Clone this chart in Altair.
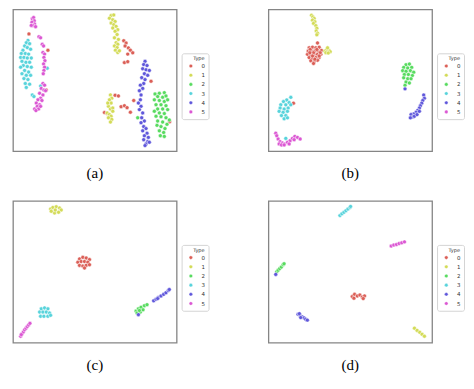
import altair as alt
import pandas as pd

TYPES = ["0", "1", "2", "3", "4", "5"]
COLORS = ["#db5f57", "#d3db57", "#57db5f", "#57d3db", "#5f57db", "#db57d3"]
CAPTIONS = ["(a)", "(b)", "(c)", "(d)"]

# ---- panel (a): embedding coordinates ----
A_XDOM = [35, 527]
A_YDOM = [447, 13]
A0 = [(83, 88), (140, 138), (135, 260), (368, 109), (375, 116), (372, 125), (382, 131), (388, 138),
      (395, 146), (380, 150), (370, 176), (380, 173), (450, 233), (398, 292), (342, 276), (352, 278),
      (360, 311), (370, 308), (378, 314), (388, 328), (310, 329), (318, 332), (506, 357)]
A1 = [(330, 32), (338, 30), (325, 40), (335, 45), (342, 50), (330, 55), (338, 60), (345, 65), (335, 70),
      (350, 75), (342, 80), (348, 90), (340, 100), (352, 105), (345, 115), (350, 120), (340, 125),
      (348, 130), (343, 138), (350, 145), (355, 140),
      (328, 275), (332, 285), (325, 290), (330, 300), (322, 310), (328, 318), (335, 315), (318, 330),
      (325, 335), (330, 340), (322, 345), (332, 350), (328, 358), (335, 325), (320, 300)]
A2 = [(462, 272), (475, 270), (490, 268), (470, 280), (485, 282), (495, 278), (460, 290), (475, 292),
      (490, 295), (500, 290), (465, 305), (480, 305), (495, 308), (470, 318), (485, 318), (500, 320),
      (460, 325), (475, 330), (490, 332), (465, 340), (480, 342), (495, 345), (505, 352), (470, 355),
      (485, 358), (498, 365), (468, 368), (480, 372), (492, 378), (475, 385), (488, 390), (478, 400),
      (490, 402), (410, 345)]
A3 = [(80, 108), (75, 115), (85, 118), (70, 125), (78, 130), (65, 138), (88, 135), (60, 148), (72, 148),
      (82, 150), (58, 160), (68, 160), (78, 162), (90, 162), (62, 172), (74, 175), (85, 175), (66, 185),
      (78, 188), (58, 190), (90, 190), (70, 200), (82, 205), (62, 210), (75, 215), (88, 215), (68, 225),
      (80, 228), (72, 240), (85, 242), (75, 252), (93, 275), (98, 280), (118, 248), (138, 193)]
A4 = [(432, 172), (428, 182), (438, 185), (425, 195), (435, 198), (445, 200), (430, 210), (440, 215),
      (422, 222), (432, 228), (428, 240), (418, 245), (425, 255), (415, 262), (420, 275), (418, 290),
      (412, 300), (420, 310), (415, 320), (425, 330), (422, 345), (430, 355), (420, 360), (428, 372),
      (435, 378), (425, 385), (438, 392), (430, 400), (442, 405), (428, 412), (440, 418), (435, 425),
      (445, 420), (432, 430)]
A5 = [(93, 42), (97, 38), (99, 48), (92, 52), (100, 58), (95, 62), (103, 66), (90, 62), (113, 97),
      (118, 100), (123, 120), (127, 125), (125, 145), (130, 150), (128, 160), (131, 170), (127, 180),
      (130, 190), (128, 200), (126, 210), (125, 240), (130, 245), (120, 255), (128, 260), (133, 262),
      (115, 270), (125, 275), (118, 285), (110, 290), (122, 292), (105, 300), (115, 305), (108, 310),
      (100, 318), (112, 318), (104, 323), (118, 310)]

# ---- panel (b) ----
B_XDOM = [93, 583]
B_YDOM = [447, 12]
B0 = [(240, 115), (215, 130), (225, 128), (235, 130), (245, 128), (212, 140), (222, 140), (232, 140),
      (242, 140), (252, 138), (210, 150), (220, 152), (230, 150), (240, 150), (250, 150), (215, 160),
      (225, 162), (235, 160), (245, 160), (220, 170), (230, 172), (240, 168), (228, 178), (218, 135),
      (238, 135), (228, 145), (248, 145), (217, 145), (225, 155), (245, 155), (232, 165), (168, 300)]
B1 = [(222, 30), (226, 35), (230, 40), (225, 45), (232, 50), (228, 55), (235, 62), (238, 70), (236, 78),
      (240, 85), (238, 90), (262, 140), (268, 135), (275, 138), (265, 145), (278, 142), (270, 130),
      (272, 146)]
B2 = [(505, 182), (515, 180), (498, 190), (510, 192), (522, 190), (495, 200), (505, 202), (518, 200),
      (528, 205), (500, 212), (512, 212), (524, 215), (498, 222), (510, 225), (520, 225), (505, 235),
      (515, 238), (502, 245)]
B3 = [(160, 282), (148, 290), (138, 295), (155, 298), (130, 305), (145, 305), (160, 305), (128, 315),
      (140, 318), (152, 315), (125, 325), (137, 328), (150, 325), (132, 338), (145, 338), (140, 348),
      (150, 345), (145, 408)]
B4 = [(558, 275), (560, 285), (555, 292), (552, 300), (548, 308), (545, 315), (540, 322), (535, 328),
      (528, 333), (520, 335), (525, 342), (518, 345), (530, 340), (538, 335), (545, 325), (502, 256)]
B5 = [(115, 392), (118, 400), (122, 410), (128, 418), (135, 422), (142, 425), (150, 420), (158, 415),
      (165, 408), (172, 402), (180, 405), (188, 410), (125, 425), (132, 428), (140, 428), (155, 425),
      (170, 412)]

# ---- panel (c) ----
C_XDOM = [35, 527]
C_YDOM = [470, 30]
C0 = [(235, 210), (245, 205), (255, 207), (265, 212), (230, 220), (240, 218), (250, 218), (260, 220),
      (235, 230), (245, 232), (255, 230), (265, 228), (250, 238)]
C1 = [(148, 55), (155, 50), (165, 48), (175, 52), (180, 58), (172, 65), (160, 67), (150, 62), (162, 58)]
C2 = [(405, 372), (412, 365), (420, 360), (430, 355), (438, 352), (408, 378), (418, 375), (426, 368),
      (415, 370)]
C3 = [(120, 365), (130, 362), (140, 365), (115, 375), (125, 375), (135, 375), (145, 378), (118, 388),
      (128, 388), (140, 388), (148, 385)]
C4 = [(458, 340), (465, 335), (472, 330), (480, 325), (488, 320), (495, 315), (502, 308), (505, 305),
      (470, 333), (412, 383)]
C5 = [(58, 450), (62, 443), (66, 437), (70, 430), (74, 425), (78, 420), (82, 415), (86, 410), (60, 445)]

# ---- panel (d) ----
D_XDOM = [93, 585]
D_YDOM = [470, 30]
D0 = [(345, 327), (352, 320), (360, 325), (368, 322), (375, 328), (382, 325), (350, 332), (378, 333)]
D1 = [(532, 425), (540, 432), (548, 438), (555, 444), (562, 450)]
D2 = [(118, 250), (122, 245), (127, 240), (132, 235), (137, 228), (140, 225)]
D3 = [(308, 75), (314, 70), (320, 65), (326, 60), (332, 55), (338, 50), (340, 47)]
D4 = [(182, 382), (188, 385), (195, 390), (200, 393), (205, 397), (210, 400), (190, 392), (186, 380),
      (115, 258)]
D5 = [(462, 170), (470, 167), (478, 165), (486, 162), (494, 160), (502, 157)]

PANELS = [
    ([A0, A1, A2, A3, A4, A5], A_XDOM, A_YDOM),
    ([B0, B1, B2, B3, B4, B5], B_XDOM, B_YDOM),
    ([C0, C1, C2, C3, C4, C5], C_XDOM, C_YDOM),
    ([D0, D1, D2, D3, D4, D5], D_XDOM, D_YDOM),
]


def panel(clusters, xdom, ydom, caption):
    rows = [{"x": x, "y": y, "Type": t} for t, pts in zip(TYPES, clusters) for x, y in pts]
    df = pd.DataFrame(rows)
    return alt.Chart(
        df,
        title=alt.TitleParams(
            text=caption, orient="bottom", anchor="middle", frame="group",
            font="Liberation Serif", fontSize=15, fontWeight="normal", color="black", offset=15,
        ),
    ).mark_circle(size=16, opacity=1, stroke="white", strokeWidth=0.5).encode(
        x=alt.X("x:Q", scale=alt.Scale(domain=xdom, nice=False, zero=False), axis=None),
        y=alt.Y("y:Q", scale=alt.Scale(domain=ydom, nice=False, zero=False), axis=None),
        color=alt.Color(
            "Type:N",
            scale=alt.Scale(domain=TYPES, range=COLORS),
            legend=alt.Legend(
                orient="none", legendX=169, legendY=44, title="Type",
                titleFont="DejaVu Sans", titleFontSize=5, titleFontWeight="normal",
                titleColor="#333333", titleAnchor="end", titlePadding=2,
                labelFont="DejaVu Sans", labelFontSize=5.5, labelColor="#333333",
                labelOffset=8, labelExpr="datum.label + '      '",
                symbolType="circle", symbolSize=13, symbolOffset=3.5,
                symbolStrokeColor="white", symbolStrokeWidth=0.4,
                rowPadding=2.2, padding=3, strokeColor="#d4d4d4", fillColor="white",
                cornerRadius=2,
            ),
        ),
    ).properties(width=164, height=142)


charts = [panel(c, xd, yd, cap) for (c, xd, yd), cap in zip(PANELS, CAPTIONS)]

chart = alt.concat(
    *charts, columns=2, spacing={"row": 50, "column": 92}, bounds="flush"
).resolve_legend(color="independent").configure_view(
    stroke="#858585", strokeWidth=1.3
).properties(
    padding={"left": 4, "top": 0, "right": 0, "bottom": 0}, background="white"
)

chart.save("out.html", embed_options={"renderer": "svg", "actions": False})
